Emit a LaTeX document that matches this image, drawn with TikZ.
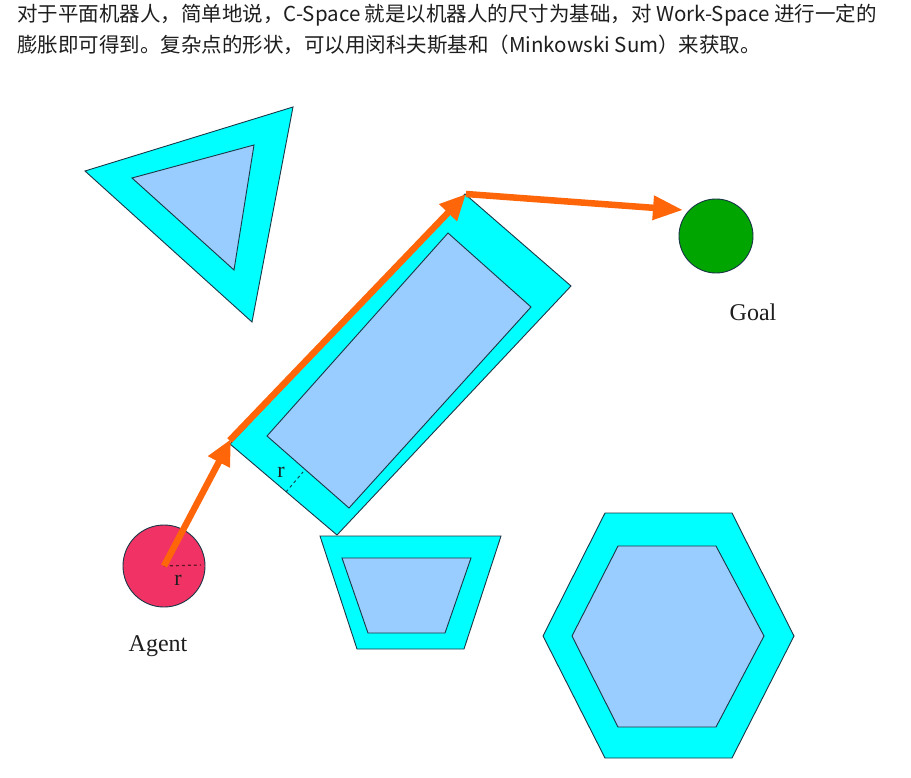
\documentclass[tikz,border=0pt]{standalone}
\usepackage{fontspec}
\setmainfont{Liberation Serif}
\newfontfamily\cjk{Noto Sans CJK SC}
\usetikzlibrary{arrows.meta}
\definecolor{cspace}{RGB}{0,255,255}
\definecolor{obst}{RGB}{153,204,255}
\definecolor{edgec}{RGB}{25,55,70}
\definecolor{agentc}{RGB}{240,50,100}
\definecolor{goalc}{RGB}{0,165,0}
\definecolor{pathc}{RGB}{255,102,10}
\definecolor{txt}{RGB}{30,30,30}
\begin{document}
\begin{tikzpicture}[x=1pt,y=-1pt,
  outer/.style={fill=cspace,draw=edgec,line width=0.9pt,line join=miter},
  inner/.style={fill=obst,draw=edgec,line width=0.9pt,line join=miter},
  route/.style={draw=pathc,line width=6.5pt,-{Triangle[length=26pt,width=23pt]}},
  label/.style={font=\fontsize{24}{24}\selectfont,text=txt,inner sep=0pt},
  para/.style={font=\cjk\fontsize{20.5}{24}\selectfont,text=txt,anchor=west,inner sep=0pt}]
\useasboundingbox (0,0) rectangle (911,778);
\fill[white] (0,0) rectangle (911,778);
% text
\node[para] (line1) at (17,15) {对于平面机器人，简单地说，C-Space 就是以机器人的尺寸为基础，对 Work-Space 进行一定的};
\node[para] (line2) at (17,45) {膨胀即可得到。复杂点的形状，可以用闵科夫斯基和（Minkowski Sum）来获取。};
% triangle
\draw[outer] (85,171) -- (293,107) -- (252,322) -- cycle;
\draw[inner] (132,178) -- (254,145) -- (234,270) -- cycle;
% rectangle
\draw[outer] (465,194) -- (571,286) -- (337,535) -- (230,444) -- cycle;
\draw[inner] (448,233) -- (531,307) -- (349,508) -- (267,436) -- cycle;
\draw[edgec,dashed,line width=0.9pt] (286,492) -- (303,472);
\node[label,font=\fontsize{22}{22}\selectfont] (rr) at (281,472) {r};
% trapezoid
\draw[outer] (320,536) -- (501,536) -- (464,649) -- (357,649) -- cycle;
\draw[inner] (342,558) -- (471,558) -- (445,633) -- (368,633) -- cycle;
% hexagon
\draw[outer] (605,513) -- (732,513) -- (794,636) -- (732,758) -- (605,758) -- (543,636) -- cycle;
\draw[inner] (618,546) -- (716,546) -- (764,636) -- (716,727) -- (618,727) -- (572,636) -- cycle;
% agent and goal
\node[circle,fill=agentc,draw=edgec,line width=0.9pt,minimum size=82pt,inner sep=0pt] (agent) at (164,566) {};
\node[circle,fill=goalc,draw=edgec,line width=0.9pt,minimum size=74pt,inner sep=0pt] (goal) at (716,236) {};
\coordinate (ar) at (201,565);
\draw[agentc!40!black,dashed,line width=1.2pt] (agent.center) -- (ar);
\node[label,font=\fontsize{22}{22}\selectfont] (ra) at (178,580) {r};
\node[label] (agentlbl) at (158,646) {Agent};
\node[label] (goallbl) at (753,312) {Goal};
% route
\coordinate (w1) at (231,439);
\coordinate (w2) at (466,194);
\coordinate (w3) at (683,210);
\draw[route] (agent.center) -- (w1);
\draw[route,shorten <=-2pt] (w1) -- (w2);
\draw[route,-{Triangle[length=30pt,width=23pt]}] (w2) -- (w3);
\end{tikzpicture}
\end{document}
